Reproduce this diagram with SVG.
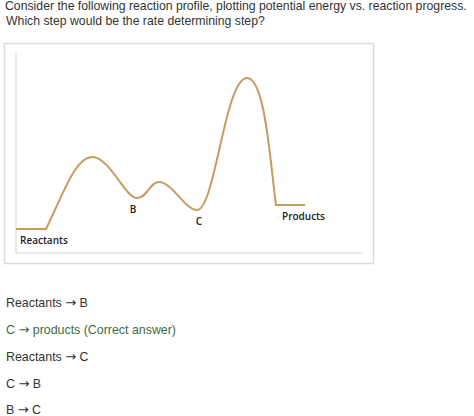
<svg xmlns="http://www.w3.org/2000/svg" width="474" height="416" viewBox="0 0 474 416">
<style>
.q{font-family:"Liberation Sans",Arial,sans-serif;font-size:12.25px;fill:#333}
.a{font-family:"Liberation Sans",Arial,sans-serif;font-size:12.4px;fill:#333}
.ar{font-family:"DejaVu Sans",sans-serif;font-size:13px}
.ok{fill:#3d6b3d}
.lbl{font-family:"Open Sans","Liberation Sans",sans-serif;font-size:10px;font-weight:600;fill:#222}
.curve{fill:none;stroke:#c99a5e;stroke-width:2;stroke-linejoin:round}
</style>
<rect x="0" y="0" width="474" height="416" fill="#fff"/>
<text class="q" x="5" y="10">Consider the following reaction profile, plotting potential energy vs. reaction progress.</text>
<text class="q" x="6" y="25">Which step would be the rate determining step?</text>
<g id="figure">
<rect x="4.5" y="43.5" width="369" height="220" fill="#fff" stroke="#dcdcdc" stroke-width="1.5"/>
<g id="axes"><path d="M16,53 V253 H363" fill="none" stroke="#d8d8d8" stroke-width="1.2"/></g>
<g id="connectors"><path class="curve" d="M16,229 H46 C62,197 75,157 92,157 C110,157 125,198 137,198 C147,198 150,182 159,182 C172,182 185,210 197,210 C215,210 225,78 247,78 C265,78 270,160 276,205 H305"/></g>
<g id="node-B"><text class="lbl" x="133" y="213" text-anchor="middle">B</text></g>
<g id="node-C"><text class="lbl" x="199" y="225" text-anchor="middle">C</text></g>
<g id="node-products"><text class="lbl" x="282" y="220">Products</text></g>
<g id="node-reactants"><text class="lbl" x="20" y="244">Reactants</text></g>
</g>
<text class="a" x="6" y="307">Reactants <tspan class="ar">→</tspan> B</text>
<text class="a ok" x="6" y="334">C <tspan class="ar">→</tspan> products (Correct answer)</text>
<text class="a" x="6" y="361">Reactants <tspan class="ar">→</tspan> C</text>
<text class="a" x="6" y="388">C <tspan class="ar">→</tspan> B</text>
<text class="a" x="6" y="414">B <tspan class="ar">→</tspan> C</text>
</svg>
